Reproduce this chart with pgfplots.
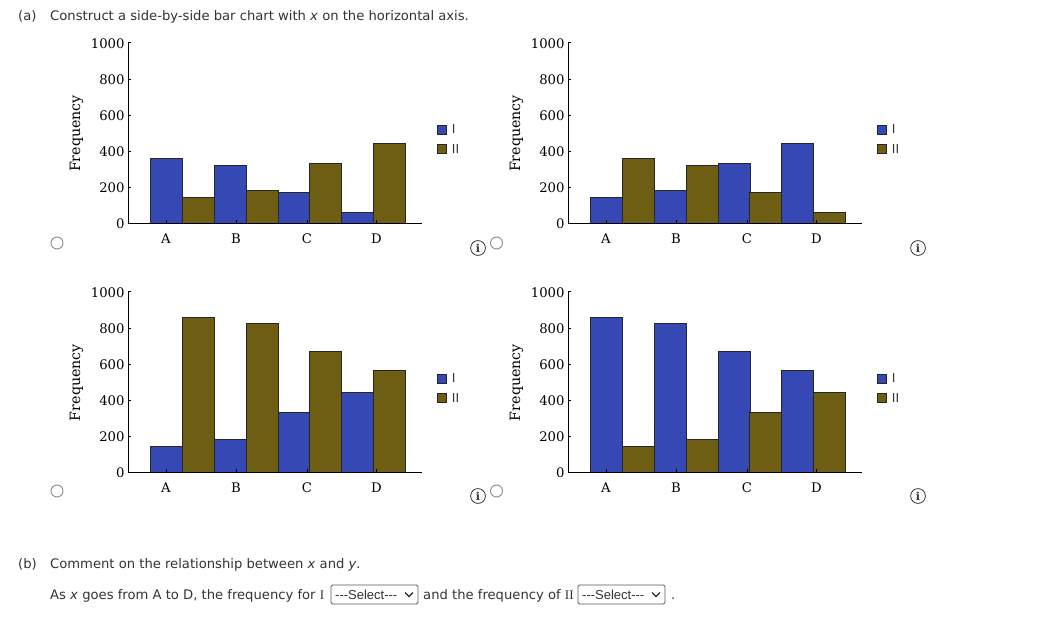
\documentclass[border=0pt]{standalone}
\usepackage{fontspec}
\usepackage{pgfplots}
\usepackage{pgfplotstable}
\pgfplotsset{compat=1.18}
\setmainfont{DejaVu Sans}
\newfontfamily\chartfont{DejaVu Serif}
\newfontfamily\timesfont{Liberation Serif}
\newfontfamily\selfont{Liberation Sans}
\definecolor{barI}{HTML}{3548B4}
\definecolor{barII}{HTML}{6D5E14}
\definecolor{txt}{HTML}{333333}
\definecolor{radio}{HTML}{8C8C8C}

% columns: bar position and height for series I and II
\pgfplotstableread{
xI  yI   xII yII
38  360  70  144
102 323  134 183
166 172  197 332
229 61   261 443
}\tabA
\pgfplotstableread{
xI  yI   xII yII
38  144  70  360
102 183  134 323
166 332  197 172
229 443  261 61
}\tabB
\pgfplotstableread{
xI  yI   xII yII
38  144  70  860
102 183  134 825
166 332  197 670
229 443  261 565
}\tabC
\pgfplotstableread{
xI  yI   xII yII
38  860  70  144
102 825  134 183
166 670  197 332
229 565  261 443
}\tabD

\pgfplotsset{
  panel/.style={
    scale only axis,
    width=294pt, height=180.5pt,
    anchor=origin,
    xmin=0, xmax=294, ymin=0, ymax=1000,
    axis lines=left,
    axis line style={-, black, line width=0.9pt},
    axis on top,
    ybar, bar width=32, bar shift=0pt,
    xtick={38,108,179,248.5},
    xticklabels={A,B,C,D},
    ytick={0,200,400,600,800,1000},
    tick align=inside,
    tick style={black, line width=0.7pt},
    major tick length=3pt,
    tick label style={font=\chartfont\fontsize{13.2}{15}\selectfont, text=black},
    xticklabel style={yshift=-7pt},
    yticklabel style={yshift=-0.7pt},
    /pgf/number format/assume math mode=true,
    /pgf/number format/1000 sep={},
    ylabel={Frequency},
    ylabel style={font=\chartfont\fontsize{14.2}{15}\selectfont, at={(axis description cs:-0.175,0.497)}, anchor=center},
    legend style={at={(1.049,0.559)}, anchor=north west, draw=none, fill=none,
      font=\fontsize{12.3}{14}\selectfont\color{txt}, row sep=5pt, inner sep=0pt, nodes={inner sep=1.5pt}},
    legend cell align=left,
    legend image code/.code={\draw[##1, bar shift=0pt] (0pt,-4.5pt) rectangle (9pt,4.5pt);},
  },
  bI/.style={fill=barI, draw=black!85, line width=0.8pt},
  bII/.style={fill=barII, draw=black!85, line width=0.8pt},
}

\newcommand{\panel}[3]{%
  \begin{axis}[panel, at={(#1pt,-#2pt)}]
    \addplot[bI] table[x=xI, y=yI] {#3};
    \addplot[bII] table[x=xII, y=yII] {#3};
    \legend{\hspace{4pt}I\strut,\hspace{4pt}II\strut}
  \end{axis}}

\newcommand{\radio}[2]{\draw[radio, line width=0.9pt, fill=white] (#1,#2) circle (6pt);}
\newcommand{\info}[2]{%
  \draw[black!80, line width=0.8pt] (#1,#2) circle (7.4pt);
  \node[font=\chartfont\bfseries\fontsize{11}{11}\selectfont, inner sep=0pt, text=black!80] at (#1,#2) {i};}
\newcommand{\selbox}[2]{%
  \draw[black!65, line width=0.8pt, rounded corners=1.5pt] (#1,585) rectangle (#2,604);
  \node[anchor=base west, inner sep=0pt, font=\selfont\fontsize{13}{14}\selectfont, text=txt] at (#1+4,599) {---Select---};
  \draw[black!85, line width=1.3pt] (#2-13,592.5) -- (#2-9,596.5) -- (#2-5,592.5);}

\begin{document}
\begin{tikzpicture}[x=1pt, y=-1pt]
  \path[use as bounding box, fill=white] (0,0) rectangle (1039,640);

  \panel{128}{223.3}{\tabA}
  \panel{568}{223.3}{\tabB}
  \panel{128}{472.3}{\tabC}
  \panel{568}{472.3}{\tabD}

  \radio{57}{243} \radio{496.5}{243} \radio{57}{491} \radio{496.5}{491}
  \info{478}{248} \info{918}{248} \info{478}{496} \info{918}{496}

  \begin{scope}[every node/.style={anchor=base west, inner sep=0pt, text=txt, font=\fontsize{13.15}{15}\selectfont}]
    \node at (18,20) {(a)};
    \node at (50,20) {Construct a side-by-side bar chart with \textit{x} on the horizontal axis.};
    \node at (18,568) {(b)};
    \node at (50,568) {Comment on the relationship between \textit{x} and \textit{y}.};
    \node at (50,599) {As \textit{x} goes from A to D, the frequency for {\timesfont I}};
    \node at (423,599) {and the frequency of {\timesfont II}};
    \node at (671,599) {.};
  \end{scope}
  \selbox{331}{418}
  \selbox{578}{665}
\end{tikzpicture}
\end{document}
